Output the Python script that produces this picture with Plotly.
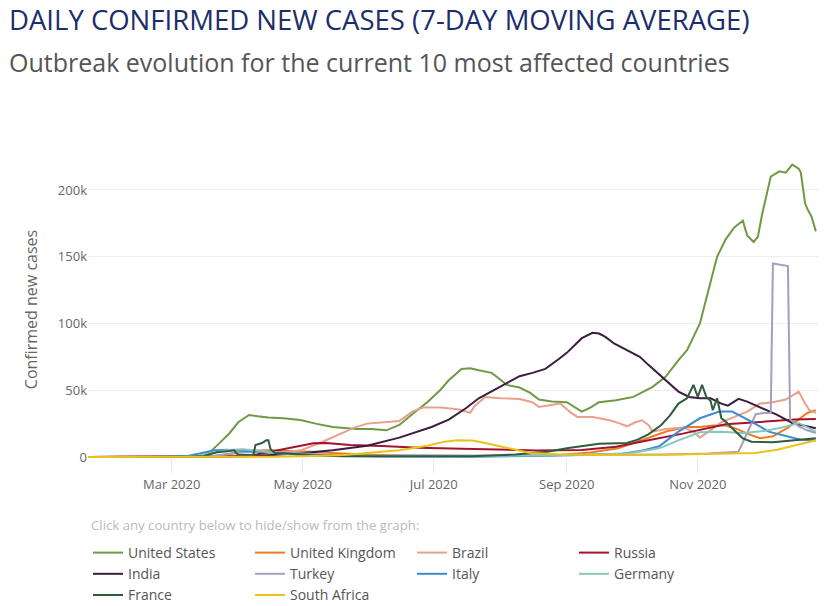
import plotly.graph_objects as go

# ---------------- data (7-day moving average of daily new cases) ----------------
countries = ["United States", "United Kingdom", "Brazil", "Russia", "India",
             "Turkey", "Italy", "Germany", "France", "South Africa"]
colors = ["#6f9a45", "#f07b1f", "#e9a08b", "#a3132d", "#3b1d3f",
          "#a59ec0", "#3f8bd0", "#86c7bc", "#2f5b3e", "#ecc21a"]

us_dates = ["2020-01-22", "2020-03-11", "2020-03-16", "2020-03-19", "2020-03-23", "2020-03-28",
            "2020-04-01", "2020-04-06", "2020-04-10", "2020-04-15", "2020-04-22", "2020-04-30",
            "2020-05-07", "2020-05-15", "2020-05-26", "2020-06-02", "2020-06-09", "2020-06-15",
            "2020-06-21", "2020-06-28", "2020-07-04", "2020-07-08", "2020-07-14", "2020-07-18",
            "2020-07-22", "2020-07-28", "2020-08-01", "2020-08-04", "2020-08-10", "2020-08-15",
            "2020-08-19", "2020-08-25", "2020-09-01", "2020-09-05", "2020-09-08", "2020-09-12",
            "2020-09-16", "2020-09-24", "2020-10-02", "2020-10-11", "2020-10-17", "2020-10-23",
            "2020-10-27", "2020-10-30", "2020-11-02", "2020-11-06", "2020-11-10", "2020-11-14",
            "2020-11-18", "2020-11-22", "2020-11-24", "2020-11-27", "2020-11-29", "2020-12-01",
            "2020-12-05", "2020-12-09", "2020-12-12", "2020-12-15", "2020-12-18", "2020-12-19",
            "2020-12-21", "2020-12-22", "2020-12-24", "2020-12-26"]
us_values = [0, 100, 1500, 4000, 10000, 18000,
             26000, 31500, 30500, 29500, 29000, 27700,
             25000, 22500, 21000, 21000, 20000, 24000,
             32000, 41000, 50000, 57500, 66000, 66500,
             65000, 63000, 58000, 54000, 52000, 48000,
             43000, 41500, 41000, 37000, 34000, 37000,
             41000, 42500, 45000, 52500, 60000, 72500,
             80000, 90000, 100000, 125000, 150000, 163000,
             172000, 177000, 166000, 161000, 165000, 182000,
             210000, 214000, 213000, 219000, 216000, 213000,
             190000, 186000, 180000, 169000]

uk_dates = ["2020-01-22", "2020-03-13", "2020-03-21", "2020-03-28", "2020-04-05", "2020-04-15",
            "2020-04-25", "2020-05-05", "2020-05-15", "2020-05-30", "2020-06-19", "2020-07-19",
            "2020-08-13", "2020-08-28", "2020-09-12", "2020-09-25", "2020-10-01", "2020-10-06",
            "2020-10-13", "2020-10-18", "2020-10-27", "2020-11-02", "2020-11-08", "2020-11-14",
            "2020-11-20", "2020-11-24", "2020-11-30", "2020-12-06", "2020-12-13", "2020-12-18",
            "2020-12-22", "2020-12-26"]
uk_values = [0, 50, 800, 2500, 4500, 5000,
             4700, 4000, 3000, 1800, 1000, 700,
             1000, 1500, 3300, 6500, 10000, 13000,
             16500, 19500, 22500, 22500, 23500, 23500,
             20500, 17500, 14000, 15500, 22000, 28000,
             33000, 35000]

brazil_dates = ["2020-01-22", "2020-02-25", "2020-03-21", "2020-03-31", "2020-04-10", "2020-04-20",
                "2020-04-30", "2020-05-09", "2020-05-18", "2020-05-25", "2020-05-31", "2020-06-09",
                "2020-06-15", "2020-06-21", "2020-06-26", "2020-07-04", "2020-07-13", "2020-07-18",
                "2020-07-20", "2020-07-25", "2020-08-01", "2020-08-10", "2020-08-16", "2020-08-19",
                "2020-08-24", "2020-08-29", "2020-09-03", "2020-09-06", "2020-09-13", "2020-09-21",
                "2020-09-26", "2020-09-29", "2020-10-03", "2020-10-06", "2020-10-09", "2020-10-11",
                "2020-10-17", "2020-10-25", "2020-10-30", "2020-11-02", "2020-11-06", "2020-11-12",
                "2020-11-18", "2020-11-24", "2020-11-30", "2020-12-06", "2020-12-12", "2020-12-18",
                "2020-12-21", "2020-12-23", "2020-12-26"]
brazil_values = [0, 0, 300, 900, 1500, 3000,
                 5000, 10500, 17000, 22000, 25000, 26500,
                 27000, 34000, 37000, 37000, 35500, 33000,
                 38000, 45000, 44000, 43500, 41000, 37500,
                 39000, 40000, 33000, 30000, 30000, 27500,
                 25000, 23000, 26000, 27500, 24000, 19000,
                 21000, 22000, 19000, 14500, 19000, 26000,
                 30000, 34000, 40000, 41000, 43000, 49000,
                 40000, 35000, 33000]

russia_dates = ["2020-01-22", "2020-03-21", "2020-03-31", "2020-04-10", "2020-04-20", "2020-04-30",
                "2020-05-06", "2020-05-12", "2020-05-23", "2020-06-07", "2020-06-24", "2020-07-14",
                "2020-08-01", "2020-08-18", "2020-09-08", "2020-09-24", "2020-10-09", "2020-10-25",
                "2020-11-14", "2020-12-01", "2020-12-16", "2020-12-26"]
russia_values = [0, 50, 600, 2000, 5000, 8500,
                 10300, 10500, 9000, 8300, 7000, 6200,
                 5300, 4900, 5300, 7700, 12500, 17500,
                 24500, 26500, 28000, 28500]

india_dates = ["2020-01-22", "2020-03-21", "2020-04-05", "2020-04-15", "2020-04-30", "2020-05-15",
               "2020-05-31", "2020-06-15", "2020-06-30", "2020-07-08", "2020-07-16", "2020-07-22",
               "2020-08-01", "2020-08-10", "2020-08-16", "2020-08-22", "2020-08-28", "2020-09-01",
               "2020-09-08", "2020-09-13", "2020-09-16", "2020-09-19", "2020-09-23", "2020-09-27",
               "2020-10-01", "2020-10-05", "2020-10-09", "2020-10-14", "2020-10-19", "2020-10-23",
               "2020-10-28", "2020-11-02", "2020-11-07", "2020-11-12", "2020-11-15", "2020-11-20",
               "2020-11-24", "2020-11-30", "2020-12-08", "2020-12-15", "2020-12-23", "2020-12-26"]
india_values = [0, 100, 500, 1300, 2800, 5000,
                8500, 14500, 22500, 28000, 36500, 44000,
                53000, 60500, 63000, 66000, 73000, 78000,
                89000, 93000, 92500, 90000, 85000, 81500,
                78500, 75000, 69000, 62000, 55000, 49000,
                45000, 44000, 44000, 40000, 38500, 43500,
                41500, 37000, 31500, 25500, 22500, 21500]

turkey_dates = ["2020-01-22", "2020-03-11", "2020-03-18", "2020-03-26", "2020-04-03", "2020-04-12",
                "2020-04-20", "2020-04-30", "2020-05-15", "2020-05-30", "2020-06-19", "2020-07-19",
                "2020-08-23", "2020-09-17", "2020-10-17", "2020-11-06", "2020-11-20", "2020-11-24",
                "2020-11-28", "2020-12-02", "2020-12-05", "2020-12-06", "2020-12-13", "2020-12-14",
                "2020-12-18", "2020-12-22", "2020-12-26"]
turkey_values = [0, 10, 300, 1800, 3300, 4300,
                 3700, 2500, 1500, 900, 1300, 1000,
                 1300, 1600, 1800, 2600, 4000, 18000,
                 32000, 33000, 33000, 145000, 143000, 28000,
                 23000, 20000, 18000]

italy_dates = ["2020-01-22", "2020-02-22", "2020-03-01", "2020-03-09", "2020-03-15", "2020-03-21",
               "2020-03-27", "2020-04-03", "2020-04-10", "2020-04-20", "2020-04-30", "2020-05-10",
               "2020-05-25", "2020-06-09", "2020-07-19", "2020-08-13", "2020-09-02", "2020-09-27",
               "2020-10-07", "2020-10-14", "2020-10-23", "2020-11-02", "2020-11-11", "2020-11-17",
               "2020-11-26", "2020-12-04", "2020-12-12", "2020-12-19", "2020-12-26"]
italy_values = [0, 20, 200, 1000, 2800, 5000,
                5500, 4600, 4000, 3000, 2100, 1300,
                700, 300, 200, 600, 1300, 2500,
                5000, 8000, 19000, 29000, 34000, 34000,
                26500, 19000, 15500, 13000, 12500]

germany_dates = ["2020-01-22", "2020-03-06", "2020-03-13", "2020-03-19", "2020-03-26", "2020-04-03",
                 "2020-04-10", "2020-04-18", "2020-04-30", "2020-05-15", "2020-06-19", "2020-07-29",
                 "2020-08-23", "2020-09-17", "2020-10-01", "2020-10-09", "2020-10-14", "2020-10-23",
                 "2020-11-02", "2020-11-12", "2020-11-22", "2020-12-02", "2020-12-10", "2020-12-18",
                 "2020-12-22", "2020-12-26"]
germany_values = [0, 20, 800, 2500, 5000, 5800,
                  4800, 3000, 1400, 700, 400, 800,
                  1300, 1800, 3000, 5000, 6500, 12500,
                  18500, 19000, 18000, 19500, 22000, 25500,
                  22000, 19000]

france_dates = ["2020-01-22", "2020-03-06", "2020-03-16", "2020-03-22", "2020-03-28", "2020-03-30",
                "2020-04-01", "2020-04-05", "2020-04-08", "2020-04-09", "2020-04-12", "2020-04-14",
                "2020-04-15", "2020-04-16", "2020-04-18", "2020-04-25", "2020-05-05", "2020-05-20",
                "2020-06-19", "2020-07-19", "2020-08-08", "2020-08-23", "2020-09-01", "2020-09-16",
                "2020-09-29", "2020-10-04", "2020-10-09", "2020-10-15", "2020-10-19", "2020-10-23",
                "2020-10-27", "2020-10-30", "2020-11-01", "2020-11-03", "2020-11-05", "2020-11-07",
                "2020-11-08", "2020-11-10", "2020-11-12", "2020-11-14", "2020-11-18", "2020-11-22",
                "2020-11-26", "2020-12-06", "2020-12-16", "2020-12-26"]
france_values = [0, 50, 800, 3500, 4500, 5000,
                 1500, 1200, 1500, 9000, 10500, 12500,
                 12500, 6000, 3000, 2500, 1300, 500,
                 400, 600, 1800, 4000, 6500, 10000,
                 10500, 13000, 17000, 24000, 31000, 40000,
                 44000, 54000, 45000, 54000, 45000, 42000,
                 35000, 44000, 29000, 26500, 20000, 14000,
                 11500, 11000, 12500, 14000]

safrica_dates = ["2020-01-22", "2020-03-21", "2020-04-20", "2020-05-10", "2020-05-20", "2020-05-31",
                 "2020-06-15", "2020-06-28", "2020-07-06", "2020-07-12", "2020-07-19", "2020-07-25",
                 "2020-08-01", "2020-08-08", "2020-08-15", "2020-08-28", "2020-09-17", "2020-10-17",
                 "2020-11-16", "2020-11-28", "2020-12-08", "2020-12-16", "2020-12-26"]
safrica_values = [0, 50, 200, 900, 1500, 3000,
                  5000, 8500, 11500, 12500, 12300, 10500,
                  8000, 5000, 3000, 2000, 1500, 1600,
                  2400, 3000, 5500, 8500, 12500]

series_dates = [us_dates, uk_dates, brazil_dates, russia_dates, india_dates,
                turkey_dates, italy_dates, germany_dates, france_dates, safrica_dates]
series_values = [us_values, uk_values, brazil_values, russia_values, india_values,
                 turkey_values, italy_values, germany_values, france_values, safrica_values]

y_tickvals = [0, 50000, 100000, 150000, 200000]
y_ticktext = ["0", "50k", "100k", "150k", "200k"]

title_text = "DAILY CONFIRMED NEW CASES (7-DAY MOVING AVERAGE)"
subtitle_text = "Outbreak evolution for the current 10 most affected countries"
legend_hint = "Click any country below to hide/show from the graph:"

# ---------------- figure ----------------
fig = go.Figure()
for name, col, xs, ys in zip(countries, colors, series_dates, series_values):
    fig.add_trace(go.Scatter(x=xs, y=ys, name=name, mode="lines",
                             line=dict(color=col, width=2)))

FONT = "Open Sans"
fig.update_layout(
    width=825, height=606,
    margin=dict(l=88, r=7, t=161, b=148, autoexpand=False),
    paper_bgcolor="white", plot_bgcolor="white",
    font=dict(family=FONT, color="#666"),
    showlegend=True,
    legend=dict(orientation="h", x=0.0, xanchor="left", y=-0.266, yanchor="top",
                entrywidth=117, entrywidthmode="pixels",
                font=dict(family=FONT, size=14, color="#555"),
                bgcolor="rgba(0,0,0,0)"),
    xaxis=dict(type="date", range=["2020-01-22", "2020-12-27"],
               tick0="2020-03-01", dtick="M2", tickformat="%b %Y",
               showgrid=False, zeroline=False, showline=False,
               ticks="outside", ticklen=14, tickcolor="#e6e6e6", tickwidth=1,
               tickfont=dict(size=13, color="#666")),
    yaxis=dict(range=[-750, 221700], tickvals=y_tickvals, ticktext=y_ticktext,
               showgrid=True, gridcolor="#eeeeee", gridwidth=1,
               zeroline=False, showline=False,
               tickfont=dict(size=13, color="#666"),
               title=dict(text="Confirmed new cases", font=dict(size=16, color="#666"),
                          standoff=16)),
    annotations=[
        dict(text=title_text, xref="paper", yref="paper", x=-0.111, y=1.478,
             xanchor="left", yanchor="middle", showarrow=False,
             font=dict(family=FONT, size=27.5, color="#1c2d6b")),
        dict(text=subtitle_text, xref="paper", yref="paper", x=-0.111, y=1.332,
             xanchor="left", yanchor="middle", showarrow=False,
             font=dict(family=FONT, size=25, color="#555")),
        dict(text=legend_hint, xref="paper", yref="paper", x=0.002, y=-0.2256,
             xanchor="left", yanchor="middle", showarrow=False,
             font=dict(family=FONT, size=13.2, color="#bbbbbb")),
    ],
)

fig.write_html("out.html")
